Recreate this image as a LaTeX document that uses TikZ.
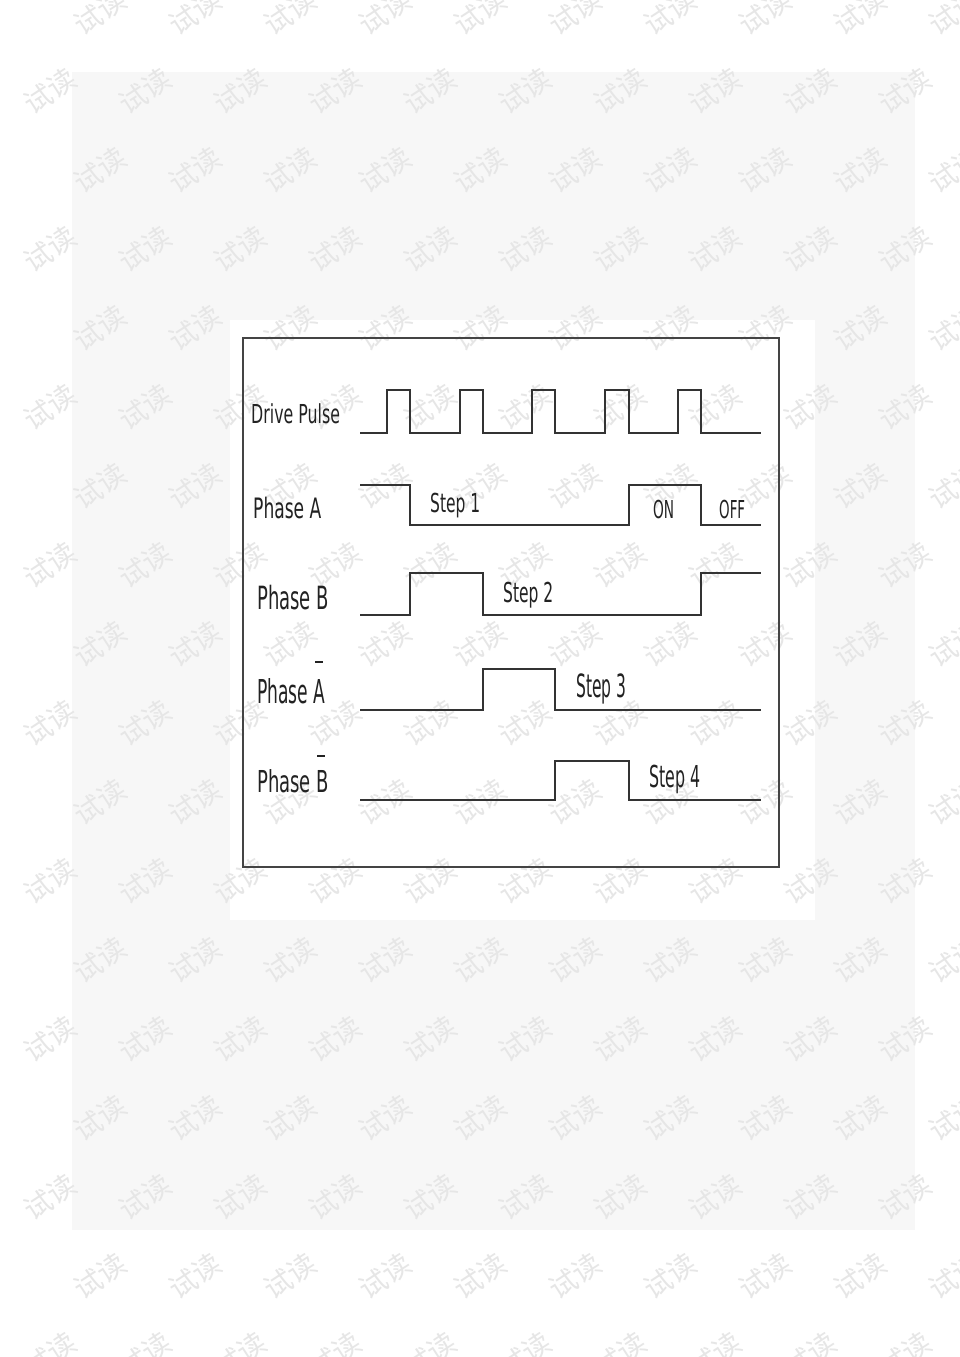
\documentclass[tikz,border=0pt]{standalone}
\usepackage{fontspec}
\setmainfont{DejaVu Sans}
\newfontfamily\cjk{Noto Sans CJK SC}
\usepackage{graphicx}
\definecolor{wavecol}{HTML}{333333}
\definecolor{framecol}{HTML}{444444}
\definecolor{txtcol}{HTML}{222222}
\definecolor{bgcol}{HTML}{F7F7F7}
\definecolor{wmcol}{HTML}{E6E6E6}
\newcommand\sclbl[3]{\scalebox{#1}[#2]{#3}}
\newcommand\barA{\makebox[0pt][l]{\hspace{0.9pt}\raisebox{12.2pt}{\rule{4.7pt}{0.6pt}}}A}
\newcommand\barB{\makebox[0pt][l]{\hspace{0.2pt}\raisebox{11.6pt}{\rule{4.4pt}{0.66pt}}}B}
\begin{document}
\begin{tikzpicture}[x=1pt,y=-1pt,
  wave/.style={draw=wavecol, line width=2pt, line join=miter},
  frame/.style={draw=framecol, line width=2pt},
  lbl/.style={anchor=base west, inner sep=0pt, text=txtcol, font=\fontsize{10}{12}\selectfont},
  wm/.style={text=wmcol, font=\cjk\fontsize{28}{30}\selectfont, rotate=33, inner sep=0pt}]
\useasboundingbox (0,0) rectangle (960,1357);
\fill[white] (0,0) rectangle (960,1357);
\fill[bgcol] (72,72) rectangle (915,1230);
\fill[white] (230,320) rectangle (815,920);
% watermarks
\foreach \k in {0,...,17}{
  \pgfmathsetmacro\wy{12+79*\k}
  \pgfmathsetmacro\wx{mod(\k,2)==0 ? 100 : 50}
  \foreach \j in {0,...,9}{
    \node[wm] (wm-\k-\j) at ({\wx+95*\j},\wy) {试读};
  }
}
% frame
\draw[frame] (243,338) rectangle (779,867);
% waveforms
\draw[wave] (360,433) -- (387,433) -- (387,390) -- (410,390) -- (410,433)
  -- (460,433) -- (460,390) -- (483,390) -- (483,433)
  -- (532,433) -- (532,390) -- (555,390) -- (555,433)
  -- (605,433) -- (605,390) -- (628.5,390) -- (628.5,433)
  -- (677.5,433) -- (677.5,390) -- (701,390) -- (701,433) -- (761,433);
\draw[wave] (360,485) -- (410,485) -- (410,524.5) -- (628.5,524.5) -- (628.5,485)
  -- (701,485) -- (701,524.5) -- (761,524.5);
\draw[wave] (360,615) -- (410,615) -- (410,573) -- (483,573) -- (483,615)
  -- (701,615) -- (701,573) -- (761,573);
\draw[wave] (360,710) -- (483,710) -- (483,668.5) -- (555,668.5) -- (555,710) -- (761,710);
\draw[wave] (360,800) -- (555,800) -- (555,761) -- (628.5,761) -- (628.5,800) -- (761,800);
% labels
\node[lbl] (drive) at (251,423) {\sclbl{1.58}{2.61}{Drive Pulse}};
\node[lbl] (pha) at (253,518) {\sclbl{1.71}{2.81}{Phase A}};
\node[lbl] (s1) at (430,512) {\sclbl{1.55}{2.61}{Step 1}};
\node[lbl] (on) at (653,518) {\sclbl{1.37}{2.47}{ON}};
\node[lbl] (off) at (719,518) {\sclbl{1.34}{2.47}{OFF}};
\node[lbl] (phb) at (257,609) {\sclbl{1.80}{3.20}{Phase B}};
\node[lbl] (s2) at (503,602) {\sclbl{1.55}{2.74}{Step 2}};
\node[lbl] (phan) at (257,703) {\sclbl{1.71}{3.29}{Phase \barA}};
\node[lbl] (s3) at (576,697) {\sclbl{1.55}{3.20}{Step 3}};
\node[lbl] (phbn) at (257,792) {\sclbl{1.80}{3.02}{Phase \barB}};
\node[lbl] (s4) at (649,787) {\sclbl{1.58}{3.02}{Step 4}};
\end{tikzpicture}
\end{document}
